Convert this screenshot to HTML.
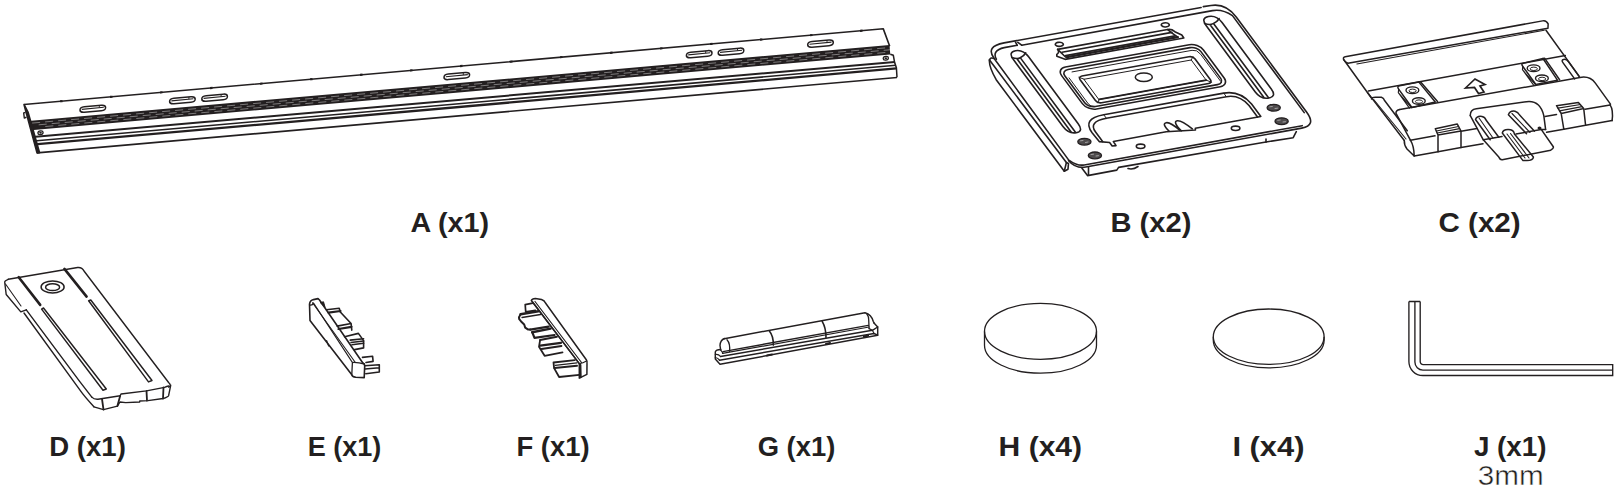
<!DOCTYPE html>
<html><head><meta charset="utf-8"><title>Parts</title>
<style>
html,body{margin:0;padding:0;background:#fff;}
body{width:1617px;height:491px;overflow:hidden;position:relative;}
svg{position:absolute;left:0;top:0;}
text{font-family:"Liberation Sans",sans-serif;font-size:27px;fill:#231f20;}
</style></head><body>
<svg width="1617" height="491" viewBox="0 0 1617 491">
<g transform="matrix(1 -0.0881 0 1 0 106.61)" stroke="#231f20" fill="none" stroke-linejoin="round">
<path d="M24.0,0 L883.3,0 L889.7,18" stroke-width="1.6"/>
<path d="M28.4,16.8 L889.5,16.8 L890.3,26.3 L30.9,26.3 Z" fill="#231f20" stroke="none"/>
<line x1="32.1" y1="19.3" x2="40.1" y2="19.3" stroke="#fff" stroke-width="0.8" opacity="0.5"/>
<line x1="45.1" y1="19.3" x2="53.1" y2="19.3" stroke="#fff" stroke-width="0.8" opacity="0.5"/>
<line x1="58.1" y1="19.3" x2="66.1" y2="19.3" stroke="#fff" stroke-width="0.8" opacity="0.5"/>
<line x1="71.1" y1="19.3" x2="79.1" y2="19.3" stroke="#fff" stroke-width="0.8" opacity="0.5"/>
<line x1="84.1" y1="19.3" x2="92.1" y2="19.3" stroke="#fff" stroke-width="0.8" opacity="0.5"/>
<line x1="97.1" y1="19.3" x2="105.1" y2="19.3" stroke="#fff" stroke-width="0.8" opacity="0.5"/>
<line x1="110.1" y1="19.3" x2="118.1" y2="19.3" stroke="#fff" stroke-width="0.8" opacity="0.5"/>
<line x1="123.1" y1="19.3" x2="131.1" y2="19.3" stroke="#fff" stroke-width="0.8" opacity="0.5"/>
<line x1="136.1" y1="19.3" x2="144.1" y2="19.3" stroke="#fff" stroke-width="0.8" opacity="0.5"/>
<line x1="149.1" y1="19.3" x2="157.1" y2="19.3" stroke="#fff" stroke-width="0.8" opacity="0.5"/>
<line x1="162.1" y1="19.3" x2="170.1" y2="19.3" stroke="#fff" stroke-width="0.8" opacity="0.5"/>
<line x1="175.1" y1="19.3" x2="183.1" y2="19.3" stroke="#fff" stroke-width="0.8" opacity="0.5"/>
<line x1="188.1" y1="19.3" x2="196.1" y2="19.3" stroke="#fff" stroke-width="0.8" opacity="0.5"/>
<line x1="201.1" y1="19.3" x2="209.1" y2="19.3" stroke="#fff" stroke-width="0.8" opacity="0.5"/>
<line x1="214.1" y1="19.3" x2="222.1" y2="19.3" stroke="#fff" stroke-width="0.8" opacity="0.5"/>
<line x1="227.1" y1="19.3" x2="235.1" y2="19.3" stroke="#fff" stroke-width="0.8" opacity="0.5"/>
<line x1="240.1" y1="19.3" x2="248.1" y2="19.3" stroke="#fff" stroke-width="0.8" opacity="0.5"/>
<line x1="253.1" y1="19.3" x2="261.1" y2="19.3" stroke="#fff" stroke-width="0.8" opacity="0.5"/>
<line x1="266.1" y1="19.3" x2="274.1" y2="19.3" stroke="#fff" stroke-width="0.8" opacity="0.5"/>
<line x1="279.1" y1="19.3" x2="287.1" y2="19.3" stroke="#fff" stroke-width="0.8" opacity="0.5"/>
<line x1="292.1" y1="19.3" x2="300.1" y2="19.3" stroke="#fff" stroke-width="0.8" opacity="0.5"/>
<line x1="305.1" y1="19.3" x2="313.1" y2="19.3" stroke="#fff" stroke-width="0.8" opacity="0.5"/>
<line x1="318.1" y1="19.3" x2="326.1" y2="19.3" stroke="#fff" stroke-width="0.8" opacity="0.5"/>
<line x1="331.1" y1="19.3" x2="339.1" y2="19.3" stroke="#fff" stroke-width="0.8" opacity="0.5"/>
<line x1="344.1" y1="19.3" x2="352.1" y2="19.3" stroke="#fff" stroke-width="0.8" opacity="0.5"/>
<line x1="357.1" y1="19.3" x2="365.1" y2="19.3" stroke="#fff" stroke-width="0.8" opacity="0.5"/>
<line x1="370.1" y1="19.3" x2="378.1" y2="19.3" stroke="#fff" stroke-width="0.8" opacity="0.5"/>
<line x1="383.1" y1="19.3" x2="391.1" y2="19.3" stroke="#fff" stroke-width="0.8" opacity="0.5"/>
<line x1="396.1" y1="19.3" x2="404.1" y2="19.3" stroke="#fff" stroke-width="0.8" opacity="0.5"/>
<line x1="409.1" y1="19.3" x2="417.1" y2="19.3" stroke="#fff" stroke-width="0.8" opacity="0.5"/>
<line x1="422.1" y1="19.3" x2="430.1" y2="19.3" stroke="#fff" stroke-width="0.8" opacity="0.5"/>
<line x1="435.1" y1="19.3" x2="443.1" y2="19.3" stroke="#fff" stroke-width="0.8" opacity="0.5"/>
<line x1="448.1" y1="19.3" x2="456.1" y2="19.3" stroke="#fff" stroke-width="0.8" opacity="0.5"/>
<line x1="461.1" y1="19.3" x2="469.1" y2="19.3" stroke="#fff" stroke-width="0.8" opacity="0.5"/>
<line x1="474.1" y1="19.3" x2="482.1" y2="19.3" stroke="#fff" stroke-width="0.8" opacity="0.5"/>
<line x1="487.1" y1="19.3" x2="495.1" y2="19.3" stroke="#fff" stroke-width="0.8" opacity="0.5"/>
<line x1="500.1" y1="19.3" x2="508.1" y2="19.3" stroke="#fff" stroke-width="0.8" opacity="0.5"/>
<line x1="513.1" y1="19.3" x2="521.1" y2="19.3" stroke="#fff" stroke-width="0.8" opacity="0.5"/>
<line x1="526.1" y1="19.3" x2="534.1" y2="19.3" stroke="#fff" stroke-width="0.8" opacity="0.5"/>
<line x1="539.1" y1="19.3" x2="547.1" y2="19.3" stroke="#fff" stroke-width="0.8" opacity="0.5"/>
<line x1="552.1" y1="19.3" x2="560.1" y2="19.3" stroke="#fff" stroke-width="0.8" opacity="0.5"/>
<line x1="565.1" y1="19.3" x2="573.1" y2="19.3" stroke="#fff" stroke-width="0.8" opacity="0.5"/>
<line x1="578.1" y1="19.3" x2="586.1" y2="19.3" stroke="#fff" stroke-width="0.8" opacity="0.5"/>
<line x1="591.1" y1="19.3" x2="599.1" y2="19.3" stroke="#fff" stroke-width="0.8" opacity="0.5"/>
<line x1="604.1" y1="19.3" x2="612.1" y2="19.3" stroke="#fff" stroke-width="0.8" opacity="0.5"/>
<line x1="617.1" y1="19.3" x2="625.1" y2="19.3" stroke="#fff" stroke-width="0.8" opacity="0.5"/>
<line x1="630.1" y1="19.3" x2="638.1" y2="19.3" stroke="#fff" stroke-width="0.8" opacity="0.5"/>
<line x1="643.1" y1="19.3" x2="651.1" y2="19.3" stroke="#fff" stroke-width="0.8" opacity="0.5"/>
<line x1="656.1" y1="19.3" x2="664.1" y2="19.3" stroke="#fff" stroke-width="0.8" opacity="0.5"/>
<line x1="669.1" y1="19.3" x2="677.1" y2="19.3" stroke="#fff" stroke-width="0.8" opacity="0.5"/>
<line x1="682.1" y1="19.3" x2="690.1" y2="19.3" stroke="#fff" stroke-width="0.8" opacity="0.5"/>
<line x1="695.1" y1="19.3" x2="703.1" y2="19.3" stroke="#fff" stroke-width="0.8" opacity="0.5"/>
<line x1="708.1" y1="19.3" x2="716.1" y2="19.3" stroke="#fff" stroke-width="0.8" opacity="0.5"/>
<line x1="721.1" y1="19.3" x2="729.1" y2="19.3" stroke="#fff" stroke-width="0.8" opacity="0.5"/>
<line x1="734.1" y1="19.3" x2="742.1" y2="19.3" stroke="#fff" stroke-width="0.8" opacity="0.5"/>
<line x1="747.1" y1="19.3" x2="755.1" y2="19.3" stroke="#fff" stroke-width="0.8" opacity="0.5"/>
<line x1="760.1" y1="19.3" x2="768.1" y2="19.3" stroke="#fff" stroke-width="0.8" opacity="0.5"/>
<line x1="773.1" y1="19.3" x2="781.1" y2="19.3" stroke="#fff" stroke-width="0.8" opacity="0.5"/>
<line x1="786.1" y1="19.3" x2="794.1" y2="19.3" stroke="#fff" stroke-width="0.8" opacity="0.5"/>
<line x1="799.1" y1="19.3" x2="807.1" y2="19.3" stroke="#fff" stroke-width="0.8" opacity="0.5"/>
<line x1="812.1" y1="19.3" x2="820.1" y2="19.3" stroke="#fff" stroke-width="0.8" opacity="0.5"/>
<line x1="825.1" y1="19.3" x2="833.1" y2="19.3" stroke="#fff" stroke-width="0.8" opacity="0.5"/>
<line x1="838.1" y1="19.3" x2="846.1" y2="19.3" stroke="#fff" stroke-width="0.8" opacity="0.5"/>
<line x1="851.1" y1="19.3" x2="859.1" y2="19.3" stroke="#fff" stroke-width="0.8" opacity="0.5"/>
<line x1="864.1" y1="19.3" x2="872.1" y2="19.3" stroke="#fff" stroke-width="0.8" opacity="0.5"/>
<line x1="877.1" y1="19.3" x2="885.1" y2="19.3" stroke="#fff" stroke-width="0.8" opacity="0.5"/>
<line x1="38.7" y1="21.6" x2="46.7" y2="21.6" stroke="#fff" stroke-width="0.8" opacity="0.5"/>
<line x1="51.7" y1="21.6" x2="59.7" y2="21.6" stroke="#fff" stroke-width="0.8" opacity="0.5"/>
<line x1="64.7" y1="21.6" x2="72.7" y2="21.6" stroke="#fff" stroke-width="0.8" opacity="0.5"/>
<line x1="77.7" y1="21.6" x2="85.7" y2="21.6" stroke="#fff" stroke-width="0.8" opacity="0.5"/>
<line x1="90.7" y1="21.6" x2="98.7" y2="21.6" stroke="#fff" stroke-width="0.8" opacity="0.5"/>
<line x1="103.7" y1="21.6" x2="111.7" y2="21.6" stroke="#fff" stroke-width="0.8" opacity="0.5"/>
<line x1="116.7" y1="21.6" x2="124.7" y2="21.6" stroke="#fff" stroke-width="0.8" opacity="0.5"/>
<line x1="129.7" y1="21.6" x2="137.7" y2="21.6" stroke="#fff" stroke-width="0.8" opacity="0.5"/>
<line x1="142.7" y1="21.6" x2="150.7" y2="21.6" stroke="#fff" stroke-width="0.8" opacity="0.5"/>
<line x1="155.7" y1="21.6" x2="163.7" y2="21.6" stroke="#fff" stroke-width="0.8" opacity="0.5"/>
<line x1="168.7" y1="21.6" x2="176.7" y2="21.6" stroke="#fff" stroke-width="0.8" opacity="0.5"/>
<line x1="181.7" y1="21.6" x2="189.7" y2="21.6" stroke="#fff" stroke-width="0.8" opacity="0.5"/>
<line x1="194.7" y1="21.6" x2="202.7" y2="21.6" stroke="#fff" stroke-width="0.8" opacity="0.5"/>
<line x1="207.7" y1="21.6" x2="215.7" y2="21.6" stroke="#fff" stroke-width="0.8" opacity="0.5"/>
<line x1="220.7" y1="21.6" x2="228.7" y2="21.6" stroke="#fff" stroke-width="0.8" opacity="0.5"/>
<line x1="233.7" y1="21.6" x2="241.7" y2="21.6" stroke="#fff" stroke-width="0.8" opacity="0.5"/>
<line x1="246.7" y1="21.6" x2="254.7" y2="21.6" stroke="#fff" stroke-width="0.8" opacity="0.5"/>
<line x1="259.7" y1="21.6" x2="267.7" y2="21.6" stroke="#fff" stroke-width="0.8" opacity="0.5"/>
<line x1="272.7" y1="21.6" x2="280.7" y2="21.6" stroke="#fff" stroke-width="0.8" opacity="0.5"/>
<line x1="285.7" y1="21.6" x2="293.7" y2="21.6" stroke="#fff" stroke-width="0.8" opacity="0.5"/>
<line x1="298.7" y1="21.6" x2="306.7" y2="21.6" stroke="#fff" stroke-width="0.8" opacity="0.5"/>
<line x1="311.7" y1="21.6" x2="319.7" y2="21.6" stroke="#fff" stroke-width="0.8" opacity="0.5"/>
<line x1="324.7" y1="21.6" x2="332.7" y2="21.6" stroke="#fff" stroke-width="0.8" opacity="0.5"/>
<line x1="337.7" y1="21.6" x2="345.7" y2="21.6" stroke="#fff" stroke-width="0.8" opacity="0.5"/>
<line x1="350.7" y1="21.6" x2="358.7" y2="21.6" stroke="#fff" stroke-width="0.8" opacity="0.5"/>
<line x1="363.7" y1="21.6" x2="371.7" y2="21.6" stroke="#fff" stroke-width="0.8" opacity="0.5"/>
<line x1="376.7" y1="21.6" x2="384.7" y2="21.6" stroke="#fff" stroke-width="0.8" opacity="0.5"/>
<line x1="389.7" y1="21.6" x2="397.7" y2="21.6" stroke="#fff" stroke-width="0.8" opacity="0.5"/>
<line x1="402.7" y1="21.6" x2="410.7" y2="21.6" stroke="#fff" stroke-width="0.8" opacity="0.5"/>
<line x1="415.7" y1="21.6" x2="423.7" y2="21.6" stroke="#fff" stroke-width="0.8" opacity="0.5"/>
<line x1="428.7" y1="21.6" x2="436.7" y2="21.6" stroke="#fff" stroke-width="0.8" opacity="0.5"/>
<line x1="441.7" y1="21.6" x2="449.7" y2="21.6" stroke="#fff" stroke-width="0.8" opacity="0.5"/>
<line x1="454.7" y1="21.6" x2="462.7" y2="21.6" stroke="#fff" stroke-width="0.8" opacity="0.5"/>
<line x1="467.7" y1="21.6" x2="475.7" y2="21.6" stroke="#fff" stroke-width="0.8" opacity="0.5"/>
<line x1="480.7" y1="21.6" x2="488.7" y2="21.6" stroke="#fff" stroke-width="0.8" opacity="0.5"/>
<line x1="493.7" y1="21.6" x2="501.7" y2="21.6" stroke="#fff" stroke-width="0.8" opacity="0.5"/>
<line x1="506.7" y1="21.6" x2="514.7" y2="21.6" stroke="#fff" stroke-width="0.8" opacity="0.5"/>
<line x1="519.7" y1="21.6" x2="527.7" y2="21.6" stroke="#fff" stroke-width="0.8" opacity="0.5"/>
<line x1="532.7" y1="21.6" x2="540.7" y2="21.6" stroke="#fff" stroke-width="0.8" opacity="0.5"/>
<line x1="545.7" y1="21.6" x2="553.7" y2="21.6" stroke="#fff" stroke-width="0.8" opacity="0.5"/>
<line x1="558.7" y1="21.6" x2="566.7" y2="21.6" stroke="#fff" stroke-width="0.8" opacity="0.5"/>
<line x1="571.7" y1="21.6" x2="579.7" y2="21.6" stroke="#fff" stroke-width="0.8" opacity="0.5"/>
<line x1="584.7" y1="21.6" x2="592.7" y2="21.6" stroke="#fff" stroke-width="0.8" opacity="0.5"/>
<line x1="597.7" y1="21.6" x2="605.7" y2="21.6" stroke="#fff" stroke-width="0.8" opacity="0.5"/>
<line x1="610.7" y1="21.6" x2="618.7" y2="21.6" stroke="#fff" stroke-width="0.8" opacity="0.5"/>
<line x1="623.7" y1="21.6" x2="631.7" y2="21.6" stroke="#fff" stroke-width="0.8" opacity="0.5"/>
<line x1="636.7" y1="21.6" x2="644.7" y2="21.6" stroke="#fff" stroke-width="0.8" opacity="0.5"/>
<line x1="649.7" y1="21.6" x2="657.7" y2="21.6" stroke="#fff" stroke-width="0.8" opacity="0.5"/>
<line x1="662.7" y1="21.6" x2="670.7" y2="21.6" stroke="#fff" stroke-width="0.8" opacity="0.5"/>
<line x1="675.7" y1="21.6" x2="683.7" y2="21.6" stroke="#fff" stroke-width="0.8" opacity="0.5"/>
<line x1="688.7" y1="21.6" x2="696.7" y2="21.6" stroke="#fff" stroke-width="0.8" opacity="0.5"/>
<line x1="701.7" y1="21.6" x2="709.7" y2="21.6" stroke="#fff" stroke-width="0.8" opacity="0.5"/>
<line x1="714.7" y1="21.6" x2="722.7" y2="21.6" stroke="#fff" stroke-width="0.8" opacity="0.5"/>
<line x1="727.7" y1="21.6" x2="735.7" y2="21.6" stroke="#fff" stroke-width="0.8" opacity="0.5"/>
<line x1="740.7" y1="21.6" x2="748.7" y2="21.6" stroke="#fff" stroke-width="0.8" opacity="0.5"/>
<line x1="753.7" y1="21.6" x2="761.7" y2="21.6" stroke="#fff" stroke-width="0.8" opacity="0.5"/>
<line x1="766.7" y1="21.6" x2="774.7" y2="21.6" stroke="#fff" stroke-width="0.8" opacity="0.5"/>
<line x1="779.7" y1="21.6" x2="787.7" y2="21.6" stroke="#fff" stroke-width="0.8" opacity="0.5"/>
<line x1="792.7" y1="21.6" x2="800.7" y2="21.6" stroke="#fff" stroke-width="0.8" opacity="0.5"/>
<line x1="805.7" y1="21.6" x2="813.7" y2="21.6" stroke="#fff" stroke-width="0.8" opacity="0.5"/>
<line x1="818.7" y1="21.6" x2="826.7" y2="21.6" stroke="#fff" stroke-width="0.8" opacity="0.5"/>
<line x1="831.7" y1="21.6" x2="839.7" y2="21.6" stroke="#fff" stroke-width="0.8" opacity="0.5"/>
<line x1="844.7" y1="21.6" x2="852.7" y2="21.6" stroke="#fff" stroke-width="0.8" opacity="0.5"/>
<line x1="857.7" y1="21.6" x2="865.7" y2="21.6" stroke="#fff" stroke-width="0.8" opacity="0.5"/>
<line x1="870.7" y1="21.6" x2="878.7" y2="21.6" stroke="#fff" stroke-width="0.8" opacity="0.5"/>
<line x1="883.7" y1="21.6" x2="891.7" y2="21.6" stroke="#fff" stroke-width="0.8" opacity="0.5"/>
<line x1="45.3" y1="23.9" x2="53.3" y2="23.9" stroke="#fff" stroke-width="0.8" opacity="0.5"/>
<line x1="58.3" y1="23.9" x2="66.3" y2="23.9" stroke="#fff" stroke-width="0.8" opacity="0.5"/>
<line x1="71.3" y1="23.9" x2="79.3" y2="23.9" stroke="#fff" stroke-width="0.8" opacity="0.5"/>
<line x1="84.3" y1="23.9" x2="92.3" y2="23.9" stroke="#fff" stroke-width="0.8" opacity="0.5"/>
<line x1="97.3" y1="23.9" x2="105.3" y2="23.9" stroke="#fff" stroke-width="0.8" opacity="0.5"/>
<line x1="110.3" y1="23.9" x2="118.3" y2="23.9" stroke="#fff" stroke-width="0.8" opacity="0.5"/>
<line x1="123.3" y1="23.9" x2="131.3" y2="23.9" stroke="#fff" stroke-width="0.8" opacity="0.5"/>
<line x1="136.3" y1="23.9" x2="144.3" y2="23.9" stroke="#fff" stroke-width="0.8" opacity="0.5"/>
<line x1="149.3" y1="23.9" x2="157.3" y2="23.9" stroke="#fff" stroke-width="0.8" opacity="0.5"/>
<line x1="162.3" y1="23.9" x2="170.3" y2="23.9" stroke="#fff" stroke-width="0.8" opacity="0.5"/>
<line x1="175.3" y1="23.9" x2="183.3" y2="23.9" stroke="#fff" stroke-width="0.8" opacity="0.5"/>
<line x1="188.3" y1="23.9" x2="196.3" y2="23.9" stroke="#fff" stroke-width="0.8" opacity="0.5"/>
<line x1="201.3" y1="23.9" x2="209.3" y2="23.9" stroke="#fff" stroke-width="0.8" opacity="0.5"/>
<line x1="214.3" y1="23.9" x2="222.3" y2="23.9" stroke="#fff" stroke-width="0.8" opacity="0.5"/>
<line x1="227.3" y1="23.9" x2="235.3" y2="23.9" stroke="#fff" stroke-width="0.8" opacity="0.5"/>
<line x1="240.3" y1="23.9" x2="248.3" y2="23.9" stroke="#fff" stroke-width="0.8" opacity="0.5"/>
<line x1="253.3" y1="23.9" x2="261.3" y2="23.9" stroke="#fff" stroke-width="0.8" opacity="0.5"/>
<line x1="266.3" y1="23.9" x2="274.3" y2="23.9" stroke="#fff" stroke-width="0.8" opacity="0.5"/>
<line x1="279.3" y1="23.9" x2="287.3" y2="23.9" stroke="#fff" stroke-width="0.8" opacity="0.5"/>
<line x1="292.3" y1="23.9" x2="300.3" y2="23.9" stroke="#fff" stroke-width="0.8" opacity="0.5"/>
<line x1="305.3" y1="23.9" x2="313.3" y2="23.9" stroke="#fff" stroke-width="0.8" opacity="0.5"/>
<line x1="318.3" y1="23.9" x2="326.3" y2="23.9" stroke="#fff" stroke-width="0.8" opacity="0.5"/>
<line x1="331.3" y1="23.9" x2="339.3" y2="23.9" stroke="#fff" stroke-width="0.8" opacity="0.5"/>
<line x1="344.3" y1="23.9" x2="352.3" y2="23.9" stroke="#fff" stroke-width="0.8" opacity="0.5"/>
<line x1="357.3" y1="23.9" x2="365.3" y2="23.9" stroke="#fff" stroke-width="0.8" opacity="0.5"/>
<line x1="370.3" y1="23.9" x2="378.3" y2="23.9" stroke="#fff" stroke-width="0.8" opacity="0.5"/>
<line x1="383.3" y1="23.9" x2="391.3" y2="23.9" stroke="#fff" stroke-width="0.8" opacity="0.5"/>
<line x1="396.3" y1="23.9" x2="404.3" y2="23.9" stroke="#fff" stroke-width="0.8" opacity="0.5"/>
<line x1="409.3" y1="23.9" x2="417.3" y2="23.9" stroke="#fff" stroke-width="0.8" opacity="0.5"/>
<line x1="422.3" y1="23.9" x2="430.3" y2="23.9" stroke="#fff" stroke-width="0.8" opacity="0.5"/>
<line x1="435.3" y1="23.9" x2="443.3" y2="23.9" stroke="#fff" stroke-width="0.8" opacity="0.5"/>
<line x1="448.3" y1="23.9" x2="456.3" y2="23.9" stroke="#fff" stroke-width="0.8" opacity="0.5"/>
<line x1="461.3" y1="23.9" x2="469.3" y2="23.9" stroke="#fff" stroke-width="0.8" opacity="0.5"/>
<line x1="474.3" y1="23.9" x2="482.3" y2="23.9" stroke="#fff" stroke-width="0.8" opacity="0.5"/>
<line x1="487.3" y1="23.9" x2="495.3" y2="23.9" stroke="#fff" stroke-width="0.8" opacity="0.5"/>
<line x1="500.3" y1="23.9" x2="508.3" y2="23.9" stroke="#fff" stroke-width="0.8" opacity="0.5"/>
<line x1="513.3" y1="23.9" x2="521.3" y2="23.9" stroke="#fff" stroke-width="0.8" opacity="0.5"/>
<line x1="526.3" y1="23.9" x2="534.3" y2="23.9" stroke="#fff" stroke-width="0.8" opacity="0.5"/>
<line x1="539.3" y1="23.9" x2="547.3" y2="23.9" stroke="#fff" stroke-width="0.8" opacity="0.5"/>
<line x1="552.3" y1="23.9" x2="560.3" y2="23.9" stroke="#fff" stroke-width="0.8" opacity="0.5"/>
<line x1="565.3" y1="23.9" x2="573.3" y2="23.9" stroke="#fff" stroke-width="0.8" opacity="0.5"/>
<line x1="578.3" y1="23.9" x2="586.3" y2="23.9" stroke="#fff" stroke-width="0.8" opacity="0.5"/>
<line x1="591.3" y1="23.9" x2="599.3" y2="23.9" stroke="#fff" stroke-width="0.8" opacity="0.5"/>
<line x1="604.3" y1="23.9" x2="612.3" y2="23.9" stroke="#fff" stroke-width="0.8" opacity="0.5"/>
<line x1="617.3" y1="23.9" x2="625.3" y2="23.9" stroke="#fff" stroke-width="0.8" opacity="0.5"/>
<line x1="630.3" y1="23.9" x2="638.3" y2="23.9" stroke="#fff" stroke-width="0.8" opacity="0.5"/>
<line x1="643.3" y1="23.9" x2="651.3" y2="23.9" stroke="#fff" stroke-width="0.8" opacity="0.5"/>
<line x1="656.3" y1="23.9" x2="664.3" y2="23.9" stroke="#fff" stroke-width="0.8" opacity="0.5"/>
<line x1="669.3" y1="23.9" x2="677.3" y2="23.9" stroke="#fff" stroke-width="0.8" opacity="0.5"/>
<line x1="682.3" y1="23.9" x2="690.3" y2="23.9" stroke="#fff" stroke-width="0.8" opacity="0.5"/>
<line x1="695.3" y1="23.9" x2="703.3" y2="23.9" stroke="#fff" stroke-width="0.8" opacity="0.5"/>
<line x1="708.3" y1="23.9" x2="716.3" y2="23.9" stroke="#fff" stroke-width="0.8" opacity="0.5"/>
<line x1="721.3" y1="23.9" x2="729.3" y2="23.9" stroke="#fff" stroke-width="0.8" opacity="0.5"/>
<line x1="734.3" y1="23.9" x2="742.3" y2="23.9" stroke="#fff" stroke-width="0.8" opacity="0.5"/>
<line x1="747.3" y1="23.9" x2="755.3" y2="23.9" stroke="#fff" stroke-width="0.8" opacity="0.5"/>
<line x1="760.3" y1="23.9" x2="768.3" y2="23.9" stroke="#fff" stroke-width="0.8" opacity="0.5"/>
<line x1="773.3" y1="23.9" x2="781.3" y2="23.9" stroke="#fff" stroke-width="0.8" opacity="0.5"/>
<line x1="786.3" y1="23.9" x2="794.3" y2="23.9" stroke="#fff" stroke-width="0.8" opacity="0.5"/>
<line x1="799.3" y1="23.9" x2="807.3" y2="23.9" stroke="#fff" stroke-width="0.8" opacity="0.5"/>
<line x1="812.3" y1="23.9" x2="820.3" y2="23.9" stroke="#fff" stroke-width="0.8" opacity="0.5"/>
<line x1="825.3" y1="23.9" x2="833.3" y2="23.9" stroke="#fff" stroke-width="0.8" opacity="0.5"/>
<line x1="838.3" y1="23.9" x2="846.3" y2="23.9" stroke="#fff" stroke-width="0.8" opacity="0.5"/>
<line x1="851.3" y1="23.9" x2="859.3" y2="23.9" stroke="#fff" stroke-width="0.8" opacity="0.5"/>
<line x1="864.3" y1="23.9" x2="872.3" y2="23.9" stroke="#fff" stroke-width="0.8" opacity="0.5"/>
<line x1="877.3" y1="23.9" x2="885.3" y2="23.9" stroke="#fff" stroke-width="0.8" opacity="0.5"/>
<path d="M890.3,26 L893.3,27.3 L894.6,34.6 L896.4,40.1 L897,49.9" stroke-width="1.5"/>
<line x1="32.7" y1="33.2" x2="894.6" y2="34.2" stroke-width="2"/>
<line x1="33.8" y1="37.4" x2="896" y2="37.6" stroke-width="1.6"/>
<line x1="34.7" y1="40.8" x2="896.4" y2="40.8" stroke-width="2.3"/>
<line x1="37.0" y1="49.5" x2="897" y2="49.9" stroke-width="1.6"/>
<path d="M24,0 L37,49.5 L39.5,49.5 L28,8 Z" stroke-width="1.6" fill="#231f20"/>
<path d="M25.5,8 L23.7,8.5 L24.3,13.5 L26.5,13" stroke-width="1.4"/>
<ellipse cx="40.5" cy="29.7" rx="2.6" ry="1.8" stroke-width="1.3"/>
<ellipse cx="40.5" cy="29.7" rx="1.3" ry="0.9" fill="#231f20" stroke="none"/>
<ellipse cx="885.8" cy="29.7" rx="2.6" ry="1.8" stroke-width="1.3"/>
<ellipse cx="885.8" cy="29.7" rx="1.3" ry="0.9" fill="#231f20" stroke="none"/>
<path d="M84.3,7.5 L101.3,7.5 Q105.6,7.5 105.6,10.3 Q105.6,13.1 101.3,13.1 L84.3,13.1 Q80.0,13.1 80.0,10.3 Q80.0,7.5 84.3,7.5 Z" stroke-width="1.5"/>
<line x1="81.8" y1="10.0" x2="103.8" y2="9.8" stroke-width="1.1"/>
<line x1="99.3" y1="7.5" x2="99.3" y2="9.8" stroke-width="0.9"/>
<path d="M173.9,6.9 L190.9,6.9 Q195.2,6.9 195.2,9.7 Q195.2,12.5 190.9,12.5 L173.9,12.5 Q169.6,12.5 169.6,9.7 Q169.6,6.9 173.9,6.9 Z" stroke-width="1.5"/>
<line x1="171.4" y1="9.4" x2="193.4" y2="9.2" stroke-width="1.1"/>
<line x1="188.9" y1="6.9" x2="188.9" y2="9.2" stroke-width="0.9"/>
<path d="M206.1,7.2 L223.1,7.2 Q227.4,7.2 227.4,10.0 Q227.4,12.8 223.1,12.8 L206.1,12.8 Q201.8,12.8 201.8,10.0 Q201.8,7.2 206.1,7.2 Z" stroke-width="1.5"/>
<line x1="203.6" y1="9.7" x2="225.6" y2="9.5" stroke-width="1.1"/>
<line x1="221.1" y1="7.2" x2="221.1" y2="9.5" stroke-width="0.9"/>
<path d="M448.3,6.9 L465.3,6.9 Q469.6,6.9 469.6,9.7 Q469.6,12.5 465.3,12.5 L448.3,12.5 Q444.0,12.5 444.0,9.7 Q444.0,6.9 448.3,6.9 Z" stroke-width="1.5"/>
<line x1="445.8" y1="9.4" x2="467.8" y2="9.2" stroke-width="1.1"/>
<line x1="463.3" y1="6.9" x2="463.3" y2="9.2" stroke-width="0.9"/>
<path d="M690.7,6.4 L707.7,6.4 Q712.0,6.4 712.0,9.2 Q712.0,12.0 707.7,12.0 L690.7,12.0 Q686.4,12.0 686.4,9.2 Q686.4,6.4 690.7,6.4 Z" stroke-width="1.5"/>
<line x1="688.2" y1="8.9" x2="710.2" y2="8.7" stroke-width="1.1"/>
<line x1="705.7" y1="6.4" x2="705.7" y2="8.7" stroke-width="0.9"/>
<path d="M722.5,6.7 L739.5,6.7 Q743.8,6.7 743.8,9.5 Q743.8,12.3 739.5,12.3 L722.5,12.3 Q718.2,12.3 718.2,9.5 Q718.2,6.7 722.5,6.7 Z" stroke-width="1.5"/>
<line x1="720.0" y1="9.2" x2="742.0" y2="9.0" stroke-width="1.1"/>
<line x1="737.5" y1="6.7" x2="737.5" y2="9.0" stroke-width="0.9"/>
<path d="M812.0,6.5 L829.0,6.5 Q833.3,6.5 833.3,9.3 Q833.3,12.1 829.0,12.1 L812.0,12.1 Q807.7,12.1 807.7,9.3 Q807.7,6.5 812.0,6.5 Z" stroke-width="1.5"/>
<line x1="809.5" y1="9.0" x2="831.5" y2="8.8" stroke-width="1.1"/>
<line x1="827.0" y1="6.5" x2="827.0" y2="8.8" stroke-width="0.9"/>
<line x1="60" y1="0" x2="62.5" y2="0" stroke-width="2.1"/>
<line x1="110" y1="0" x2="112.5" y2="0" stroke-width="2.1"/>
<line x1="160" y1="0" x2="162.5" y2="0" stroke-width="2.1"/>
<line x1="210" y1="0" x2="212.5" y2="0" stroke-width="2.1"/>
<line x1="260" y1="0" x2="262.5" y2="0" stroke-width="2.1"/>
<line x1="310" y1="0" x2="312.5" y2="0" stroke-width="2.1"/>
<line x1="360" y1="0" x2="362.5" y2="0" stroke-width="2.1"/>
<line x1="410" y1="0" x2="412.5" y2="0" stroke-width="2.1"/>
<line x1="460" y1="0" x2="462.5" y2="0" stroke-width="2.1"/>
<line x1="510" y1="0" x2="512.5" y2="0" stroke-width="2.1"/>
<line x1="560" y1="0" x2="562.5" y2="0" stroke-width="2.1"/>
<line x1="610" y1="0" x2="612.5" y2="0" stroke-width="2.1"/>
<line x1="660" y1="0" x2="662.5" y2="0" stroke-width="2.1"/>
<line x1="710" y1="0" x2="712.5" y2="0" stroke-width="2.1"/>
<line x1="760" y1="0" x2="762.5" y2="0" stroke-width="2.1"/>
<line x1="810" y1="0" x2="812.5" y2="0" stroke-width="2.1"/>
<line x1="860" y1="0" x2="862.5" y2="0" stroke-width="2.1"/>
</g>
<g stroke="#231f20" fill="none" stroke-width="1.6" stroke-linejoin="round" stroke-linecap="round">
<g transform="matrix(1 -0.18 0.74 1 1000 45)">
<g vector-effect="non-scaling-stroke">
<!-- plate outer outline -->
<path vector-effect="non-scaling-stroke" d="M-14,11 Q-14,-1.2 5,-1.2 L202,-1.2 M204.5,-1.6 L212,-1.4 Q226.8,-1.2 226.8,13 L226.8,108 Q226.8,121.3 212,121.3 L-4,121.3 Q-14,121.3 -15,113"/>
<!-- bevel second line -->
<path vector-effect="non-scaling-stroke" d="M-12.5,12 Q-11,3.5 2,3 L15,3 M19,3.6 L210,3.4 Q220,3.4 224.3,11 L224.3,108 M214,119.2 L-4,119.2 Q-11,119 -14,113"/>
<path vector-effect="non-scaling-stroke" d="M15,3 L15.5,0 M19,3.6 L17.5,0.5"/>
<!-- left flange -->
<path vector-effect="non-scaling-stroke" d="M-19,11.5 Q-24,17 -26,30 L-25.7,121.6 L-21.1,120.4 L-17,115.5 L-18.2,114.3"/>
<path vector-effect="non-scaling-stroke" d="M-19,11.5 L-18.2,114.3 L-25.7,121.6"/>
<path vector-effect="non-scaling-stroke" d="M-19,11.5 Q-16,9 -14,11 L-14.5,113"/>
<!-- ribs -->
<path vector-effect="non-scaling-stroke" d="M2.3,15 Q2.3,7.5 10,7.5 Q17.5,7.5 17.5,15 L17.5,82 Q17.5,89.5 10,89.5 Q2.3,89.5 2.3,82 Z"/>
<path vector-effect="non-scaling-stroke" d="M2.3,13 Q6,15.5 9.5,14.5 Q15,13 17.5,11 M6,14.8 L6,88 M9.6,14.6 L9.6,89"/>
<path vector-effect="non-scaling-stroke" d="M194.6,15.5 Q194.6,8 202.6,8 Q210.6,8 210.6,15.5 L210.6,82 Q210.6,89.5 202.6,89.5 Q194.6,89.5 194.6,82 Z"/>
<path vector-effect="non-scaling-stroke" d="M194.6,13.5 Q198,16 202,15 Q208,13.5 210.6,11.5 M198.6,15.3 L198.6,88 M202.5,15.1 L202.5,89"/>
<!-- top slot -->
<path vector-effect="non-scaling-stroke" d="M48,13 L158,13 Q162,13 163,16 L167,20 L166.8,23 L48,23 L42.8,19 L44,17.3 Q48,16 48,13"/>
<path vector-effect="non-scaling-stroke" d="M50,16.2 L160,16.2 M51,19.8 L160.5,19.8"/>
<path vector-effect="non-scaling-stroke" d="M51,21.3 L162,21.3" stroke-width="2.4"/>
<path vector-effect="non-scaling-stroke" d="M48,13 L50,21 M158,13 Q160,18 162,21"/>
<!-- central raised rect -->
<rect vector-effect="non-scaling-stroke" x="34.4" y="29.8" width="141.8" height="42" rx="9" ry="7"/>
<rect vector-effect="non-scaling-stroke" x="37" y="32.5" width="136" height="37" rx="7" ry="5"/>
<path vector-effect="non-scaling-stroke" d="M46,35.2 L166,35.2 Q171,35.2 171,40 L171,67 M39.5,40 L39.5,66 Q39.5,69 43,69" stroke-width="1"/>
<!-- inner recess -->
<rect vector-effect="non-scaling-stroke" x="48" y="40.4" width="115" height="26.7" rx="4" ry="3"/>
<path vector-effect="non-scaling-stroke" d="M52,43.6 L159,43.6 L159,63.8 L52,63.8 Z" stroke-width="1"/>
<path vector-effect="non-scaling-stroke" d="M48.5,41 L52,43.6 M162.5,41 L159,43.6 M162.5,66.5 L159,63.8 M48.5,66.5 L52,63.8" stroke-width="1"/>
<path vector-effect="non-scaling-stroke" d="M52,63.8 L159,63.8" stroke-width="1.8"/>
<!-- lower cutout -->
<path vector-effect="non-scaling-stroke" d="M46,78 L166,78 Q182,78 183.5,92 L183.5,104.5 L118,104.5 L117,106 L90,103 L37,103.2 L36.7,107.2 L33,107 L33,103.5 L24.5,101 L24,92 Q24,78 46,78"/>
<path vector-effect="non-scaling-stroke" d="M46,81.6 L166,81.6 Q179,81.6 180.2,93 L180.2,104.5 M46,81.6 Q27.5,81.6 27.5,92 L27.5,101.5"/>
<path vector-effect="non-scaling-stroke" d="M46,78 L46,81.6 M166,78 L166,81.6" stroke-width="1"/>
<path vector-effect="non-scaling-stroke" d="M93,103 Q91,95 96,95 Q100,95 103,104 M104,104.5 Q102,95 107,95 Q111,95 115,104.5"/>
<ellipse vector-effect="non-scaling-stroke" cx="52.8" cy="8.8" rx="3.8" ry="1.9"/>
<ellipse vector-effect="non-scaling-stroke" cx="159" cy="8.5" rx="3.8" ry="1.9"/>
</g>
</g>
<!-- holes in xy -->
<ellipse cx="1143.8" cy="77.2" rx="8.5" ry="4.3" stroke-width="1.5"/>
<ellipse cx="1140.6" cy="146.3" rx="4.3" ry="2.2"/>
<ellipse cx="1235.6" cy="128.3" rx="4.3" ry="2.2"/>
<g stroke-width="1.3" fill="#231f20" fill-opacity="0.8">
<ellipse cx="1084.4" cy="141.7" rx="6.6" ry="3.4"/><ellipse cx="1094.9" cy="155.4" rx="6.6" ry="3.4"/><ellipse cx="1273.7" cy="107.7" rx="6.6" ry="3.4"/><ellipse cx="1281.6" cy="121.2" rx="6.6" ry="3.4"/>
</g>
<g stroke="#fff" stroke-width="0.8" opacity="0.6"><path d="M1080.5,140.8 L1083,140.5 M1085.5,142.5 L1088,142 M1091,154.5 L1093.5,154.2 M1096,156 L1098.5,155.7 M1269.8,106.8 L1272.3,106.5 M1275,108.5 L1277.5,108.2 M1277.7,120.3 L1280.2,120 M1283,122 L1285.5,121.7"/></g>
<!-- lip (vertical face) -->
<path d="M1082,168.3 L1087.5,175.6 L1116.8,170.1 L1118.6,167.4 L1266,142 L1293.2,137.7 L1296.3,131.6"/>
<path d="M1088.5,167 L1088.5,175.3 M1266,142.2 L1266,139 M1128,168.5 Q1133,170 1138,166.5"/>
</g>

<g stroke="#231f20" fill="none" stroke-width="1.5" stroke-linejoin="round" stroke-linecap="round">
<g transform="matrix(1 -0.18 0.72 1 1345 57)">
<!-- top lip -->
<path vector-effect="non-scaling-stroke" d="M0.3,-0.2 L199.3,-0.5 Q201.5,0 201,3 L198,6.9 L-1.4,6 Q-3.5,4.5 -2.8,2 Q-2,-0.2 0.3,-0.2"/>
<path vector-effect="non-scaling-stroke" d="M6,8.1 L193.5,8" stroke-width="1.1"/>
<path vector-effect="non-scaling-stroke" d="M-2.8,2 L-2.8,40 M195,8.3 L195,54"/>
<path vector-effect="non-scaling-stroke" d="M-1,33.8 L196,33.8"/>
<!-- blocks -->
<path vector-effect="non-scaling-stroke" d="M27,37 Q27,34.2 30,34.2 L49.4,34 L51.2,54.3 L27,55.4 Z"/>
<path vector-effect="non-scaling-stroke" d="M27,37 L24.5,40 L24.5,55.5 M24.5,40 L26.5,55.4" stroke-width="1.1"/>
<path vector-effect="non-scaling-stroke" d="M49.4,34 L51,34 L53.5,54.2"/>
<path vector-effect="non-scaling-stroke" d="M151.4,36.5 Q151.4,33.9 154,33.9 L174.3,32.9 L173.3,54.4 L151.4,54.8 Z"/>
<path vector-effect="non-scaling-stroke" d="M151.4,36.5 L149,39.5 L149,55 M149,39.5 L151,54.8" stroke-width="1.1"/>
<path vector-effect="non-scaling-stroke" d="M174.3,32.9 L176,33 L175.5,54.3"/>
<path vector-effect="non-scaling-stroke" d="M189.3,56 L189.3,40 Q189.3,37 192,37 Q194.8,37 194.8,40 L194.8,55"/>
<!-- front plate top & right -->
<path vector-effect="non-scaling-stroke" d="M15,55.3 L195,55.5 Q205,55.5 205,63 L205,84"/>
</g>
<!-- left slot / flange -->
<path d="M1367.6,92.6 L1404.3,140.5"/>
<path d="M1371.5,99 Q1372,97 1376,97.2 L1381.4,97.2 Q1384,98 1384.4,100.3 L1407.3,130.8" />
<path d="M1373.7,99.5 L1406,139" stroke-width="1.1"/>
<!-- front plate left edge -->
<path d="M1399.7,109.4 Q1396,110 1395.9,113.2 L1410.4,140.2"/>
<!-- roll -->
<path d="M1404.3,140.5 Q1404,145 1407,149 L1414.2,156 M1410.4,140.2 Q1414,146 1414.2,156"/>
<path d="M1410.4,140.2 L1435,135.85 M1461,131.2 L1477,128.4 M1545,116.4 L1556.5,114.4 M1585,109.3 L1610.1,104.9"/>
<path d="M1414.2,156 L1438,151.7 M1461,147.6 L1483,143.7 M1546.6,132.3 L1563.8,129.2 M1585.6,125.3 L1612.1,120.6"/>
<path d="M1610.1,104.9 Q1613.5,110 1612.1,120.6"/>
<!-- left tab -->
<path d="M1435.3,128.7 L1457.3,124.1 L1461,131 L1461,147.6 M1435.3,128.7 L1438,135 L1438,151.7 L1461,147.6 M1438,135 L1461,131"/>
<path d="M1436.5,131 L1458.5,126.5 M1437.3,133 L1459.5,128.7" stroke-width="1.2"/>
<!-- right tab -->
<path d="M1556.5,105.7 L1578.4,102.4 L1583.7,108.4 L1585.6,125.3 M1556.5,105.7 L1561.2,113.5 L1563.8,129.2 L1585.6,125.3 M1561.2,113.5 L1583.7,108.4"/>
<path d="M1558,108.2 L1580.5,104.5 M1559.5,110.8 L1582,106.6" stroke-width="1.2"/>
<!-- slider -->
<path d="M1470.3,115.6 Q1470,109.5 1476.3,108.7 L1526.5,101.7 Q1540,100 1543.8,115.6 L1545.6,129.4"/>
<path d="M1470.3,115.6 L1483.3,139.8 L1498.8,157.1 Q1500,160 1502.3,159.7 L1550.7,150.2 Q1554,148 1553.3,146.7 L1541.2,129.4 L1545.6,129.4"/>
<path d="M1483.3,139.8 L1502,136.5 M1516,134 L1541.2,129.4"/>
<!-- ribs -->
<path d="M1475.5,119.5 Q1477,115.5 1482,116.4 Q1485,117 1486,120 L1498.8,137.2 M1475.5,119.5 L1490.2,139.8"/>
<path d="M1479,118 L1493,138" stroke-width="1.1"/>
<path d="M1508.4,114.7 Q1510,110.5 1515,111.2 Q1518,112 1519.6,115 L1534.3,131.1 M1508.4,114.7 L1526.5,133.7"/>
<path d="M1512,113.5 L1530,132.5" stroke-width="1.1"/>
<path d="M1502.3,133 Q1503,129.4 1508,129.4 Q1514,129.4 1514.4,134 L1533.4,157.1 Q1533,160.5 1527,160.6 Q1524,160.5 1523,160.6 L1502.3,133"/>
<path d="M1507,134 L1525,158 M1510.5,133.5 L1529,158" stroke-width="1.1"/>
</g>
<!-- holes -->
<g stroke="#231f20" fill="none" stroke-width="1.4">
<ellipse cx="1412.4" cy="90.2" rx="6.4" ry="3.3"/><ellipse cx="1412.6" cy="90.8" rx="3.6" ry="1.7" stroke-width="1"/>
<ellipse cx="1418.8" cy="101" rx="6.4" ry="3.3"/><ellipse cx="1419" cy="101.6" rx="3.6" ry="1.7" stroke-width="1"/>
<ellipse cx="1533.6" cy="68.2" rx="6.4" ry="3.3"/><ellipse cx="1533.8" cy="68.8" rx="3.6" ry="1.7" stroke-width="1"/>
<ellipse cx="1541.9" cy="78.3" rx="6.4" ry="3.3"/><ellipse cx="1542.1" cy="78.9" rx="3.6" ry="1.7" stroke-width="1"/>
<path d="M1465.5,88 L1475,79 L1485,84.5 L1480,86 L1484,92 L1478.5,93.5 L1474.5,87.5 Z" stroke-width="1.7"/>
</g>
<ellipse cx="1539.5" cy="127.9" rx="2" ry="1.5" fill="#231f20"/>

<g stroke="#231f20" fill="none" stroke-width="1.4" stroke-linejoin="round" stroke-linecap="round">
<!-- top edge & corners -->
<path d="M8.3,279.3 L77.6,267.5 Q82,267 84,271 L168.6,382.5 Q172,386 168.6,387"/>
<path d="M8.3,279.3 Q4,281 4.8,283 L6.2,294.5 L20.8,311.9 L26.3,309.8"/>
<path d="M5.5,284 L21,306" stroke-width="1.1"/>
<!-- body left edge -->
<path d="M26.3,309.8 L80,381.9 L91.8,397.1"/>
<path d="M24,313 L80,390.2 Q84,396 93.9,406.8"/>
<!-- dark slot lines -->
<path d="M18.7,277.2 L40.2,304.9" stroke-width="2.6"/>
<path d="M64.4,268.9 L86.6,296.6" stroke-width="2.6"/>
<!-- hole -->
<ellipse cx="52.6" cy="286.9" rx="11.5" ry="6" stroke-width="1.5"/>
<ellipse cx="52.6" cy="287.2" rx="7" ry="3.4" stroke-width="1.5"/>
<!-- grooves -->
<path d="M41.6,309.1 L43.5,308 L106.3,389 L103,390.2 Z" stroke-width="1.45"/>
<path d="M88.6,300.8 L90.8,300 L152,380.5 L148.5,381.9 Z" stroke-width="1.45"/>
<!-- bottom front -->
<path d="M91.8,397.1 Q94,399.5 98,399.2 L120.2,395.7 L121,394 L146.5,390.9 L164.5,387.4 Q167,386.5 168.6,386"/>
<path d="M93.9,406.8 L103.5,409.6 L117.4,406.1 L120,402 L125.7,402.6 L139.6,402 L139.8,401 L147.9,400.6 L163.1,398.5 Q168,397 168.6,395.7 L170.7,385.3"/>
<path d="M102,399 L103.5,409.6 M120.2,395.7 L117.4,406.1 M146.5,390.9 L147,400.6 M163.5,387.5 L163,398.5" stroke-width="1.8"/>
</g>

<g stroke="#231f20" fill="none" stroke-width="1.6" stroke-linejoin="round" stroke-linecap="round">
<!-- E main bar -->
<path d="M309.5,304.2 Q310,300.5 313.5,299.6 L318,298.6 L319.5,300 L362.5,362.5 Q365,364 364.7,366 L364.2,377.6 L355.8,377.3 Q352,376.5 351.8,374.8 L310,320.5 L309.5,304.2"/>
<path d="M310,305 Q312.5,305.5 313.5,303 L352.4,362.5 L351.8,374.8 M352.4,362.5 Q358,362.2 364.5,364" stroke-width="1.3"/>
<path d="M312.5,302.8 L355,362" stroke-width="1.1"/>
<path d="M320.5,302.5 L323.5,301.8 L325,307 Z" fill="#231f20" stroke-width="1"/>
<path d="M326.6,340.5 L328.6,346" stroke-width="1.1"/>
<!-- upper teeth -->
<path d="M326.5,309.8 L339.2,308.2 L340.5,312.2"/>
<path d="M328.5,312.7 L340.5,311" stroke-width="2.2"/>
<path d="M340.5,312.2 L351.1,323.5 L351.8,330.1 M337.2,326.1 L351.1,323.5" />
<path d="M338.5,329 L351.5,326.8" stroke-width="2.2"/>
<path d="M344.6,336.7 L358.4,333.4 L363.6,340.6 L363.6,347.9 L354.6,349.6"/>
<path d="M350.2,340.1 L363.6,338.8 M351,342.5 L363.6,341 M352,344.8 L363.6,343.3" stroke-width="1.6"/>
<!-- lower teeth -->
<path d="M362.5,357.4 L372.6,356.3 L373.1,361.4 L366,362.5"/>
<path d="M364.7,365.8 L379.3,364.7 L379.3,372 L365.8,373.7 M365,369 L379.3,367.7"/>
</g>

<g stroke="#231f20" fill="none" stroke-width="1.5" stroke-linejoin="round" stroke-linecap="round">
<!-- F main bar -->
<path d="M531.3,300.5 Q532,298.6 535.4,298.4 L541.5,299.5 Q544.5,300.5 545.5,303 L586.3,359.7 Q587.5,361.5 587,363.5 L586.9,374.3 L579.3,378.2 L579.3,363.6 L531.3,300.5"/>
<path d="M532.8,302.1 L579.3,363.6 Q583,363.2 586.5,361" stroke-width="1.4"/>
<path d="M535,301.5 L581.5,362.5" stroke-width="1.2"/>
<path d="M580.2,365 L580.5,377" stroke-width="2.4"/>
<!-- T1 -->
<path d="M525.2,304.7 L532.8,303.1 M525.2,304.7 L525.7,311.8 L535.4,310.3" stroke-width="1.7"/>
<!-- B1 (big slab) -->
<path d="M520.6,314.3 L538.4,311.3" stroke-width="2.6"/>
<path d="M522,317.5 L540.5,314.5" stroke-width="1.3"/>
<path d="M520.6,314.3 Q518.5,317 519.1,318.9 L521.1,321.5 L524.2,324.5 L525.2,327.6 L528.2,329.6 L530.3,329.6" stroke-width="2"/>
<path d="M530.3,329.6 L548.6,326.6" stroke-width="2.4"/>
<!-- B2 -->
<path d="M532.2,332.2 L550.6,328.6" stroke-width="2.4"/>
<path d="M532.2,332.2 L534.5,337.8 L554.6,335" stroke-width="2.2"/>
<!-- B3 -->
<path d="M540.1,340.1 L556.9,336.7" stroke-width="2"/>
<path d="M540.1,340.1 L539,346.8 L544.6,355.8 L562.5,352.4" stroke-width="1.8"/>
<path d="M540.2,345.7 L561,342.8" stroke-width="2.2"/>
<path d="M541.5,349 L561.5,346" stroke-width="1.8"/>
<!-- B4 -->
<path d="M553.5,362.5 L574.8,360.2 M553.5,362.5 L554.1,368.1 L559.1,377 L579.3,374.8" stroke-width="1.8"/>
<path d="M555.2,365.3 L577,362.8" stroke-width="1.2"/>
<path d="M554.6,368.1 L577,365.8" stroke-width="2"/>
</g>

<g stroke="#231f20" fill="none" stroke-width="1.45" stroke-linejoin="round" stroke-linecap="round">
<!-- cylinder -->
<path d="M724.2,338.7 L865,312.7 Q871.5,314.5 873.2,321.3 L874,322.9"/>
<path d="M724.5,338.5 Q720.3,340 720,345.5 L720.7,350"/>
<path d="M727,339.7 Q730.5,343.5 729.5,351.6" stroke-width="1.3"/>
<path d="M866.7,313.6 Q869,317 868.7,319.7 L869.1,328.6" stroke-width="1.3"/>
<path d="M723,351.6 L868.3,325.4"/>
<path d="M722.5,353.4 L869.1,327" stroke-width="1.2"/>
<path d="M769.5,331.3 Q773.5,336 773.3,345.1 M822.2,321.4 Q826,328 826,337.4" stroke-width="1.6"/>
<!-- base -->
<path d="M720.7,349.5 Q716,349.5 715.3,352 L715.3,359 L720,364.3 L877.7,335.2 L877.7,327 L874,322.9"/>
<path d="M720.5,356.5 L872.4,330.3 L877.7,327"/>
<path d="M719.5,360.2 L874,333.5 L877.7,335.2"/>
<path d="M715.3,354.5 Q718.5,354 720.5,356.5 M715.3,357.5 Q718,358 719.5,360.2 M720.7,350 Q722,352 723,353.4" stroke-width="1.2"/>
<path d="M872.4,330.3 L874,333.5 M869.1,328.6 L872.4,330.3" stroke-width="1.2"/>
<path d="M767,355.5 L772,354.5 M826,344 L830,343 M864,336.5 L868,335.7" stroke-width="2.2"/>
</g>

<g stroke="#231f20" fill="none" stroke-width="1.3">
<!-- H -->
<path d="M984.5,331.4 L984.5,345.2 A56,28 0 0 0 1096.5,345.2 L1096.5,331.4"/>
<ellipse cx="1040.5" cy="331.35" rx="56" ry="28"/>
<!-- I -->
<path d="M1213.3,336.7 L1213.3,340.2 A55.4,27.7 0 0 0 1324.1,340.2 L1324.1,336.7"/>
<ellipse cx="1268.7" cy="336.7" rx="55.4" ry="27.7"/>
</g>

<g stroke="#231f20" fill="none" stroke-width="1.35">
<path d="M1408.9,301.5 L1420.2,301.5 M1408.9,301.5 L1408.9,361.5 A14,14 0 0 0 1422.9,375.5 L1612.7,375.5 L1612.7,364.6 L1423.2,364.6 A3,3 0 0 1 1420.2,361.6 L1420.2,301.5"/>
<path d="M1414.9,301.5 L1414.9,362.1 A8,8 0 0 0 1422.9,370.1 L1612.7,370.1"/>
</g>

<text x="410.4" y="232" textLength="78.7" lengthAdjust="spacingAndGlyphs" font-weight="bold">A (x1)</text>
<text x="1110.5" y="232" textLength="80.9" lengthAdjust="spacingAndGlyphs" font-weight="bold">B (x2)</text>
<text x="1438.4" y="232" textLength="82.3" lengthAdjust="spacingAndGlyphs" font-weight="bold">C (x2)</text>
<text x="49.2" y="456" textLength="76.7" lengthAdjust="spacingAndGlyphs" font-weight="bold">D (x1)</text>
<text x="307.7" y="456" textLength="73.7" lengthAdjust="spacingAndGlyphs" font-weight="bold">E (x1)</text>
<text x="516.4" y="456" textLength="73.2" lengthAdjust="spacingAndGlyphs" font-weight="bold">F (x1)</text>
<text x="757.7" y="456" textLength="77.6" lengthAdjust="spacingAndGlyphs" font-weight="bold">G (x1)</text>
<text x="998.6" y="456" textLength="83.5" lengthAdjust="spacingAndGlyphs" font-weight="bold">H (x4)</text>
<text x="1232.4" y="456" textLength="72.2" lengthAdjust="spacingAndGlyphs" font-weight="bold">I (x4)</text>
<text x="1473.9" y="456" textLength="72.7" lengthAdjust="spacingAndGlyphs" font-weight="bold">J (x1)</text>
<text x="1477.7" y="485" textLength="65.9" lengthAdjust="spacingAndGlyphs" font-weight="normal" stroke="#fff" stroke-width="0.45">3mm</text>
</svg>
</body></html>
